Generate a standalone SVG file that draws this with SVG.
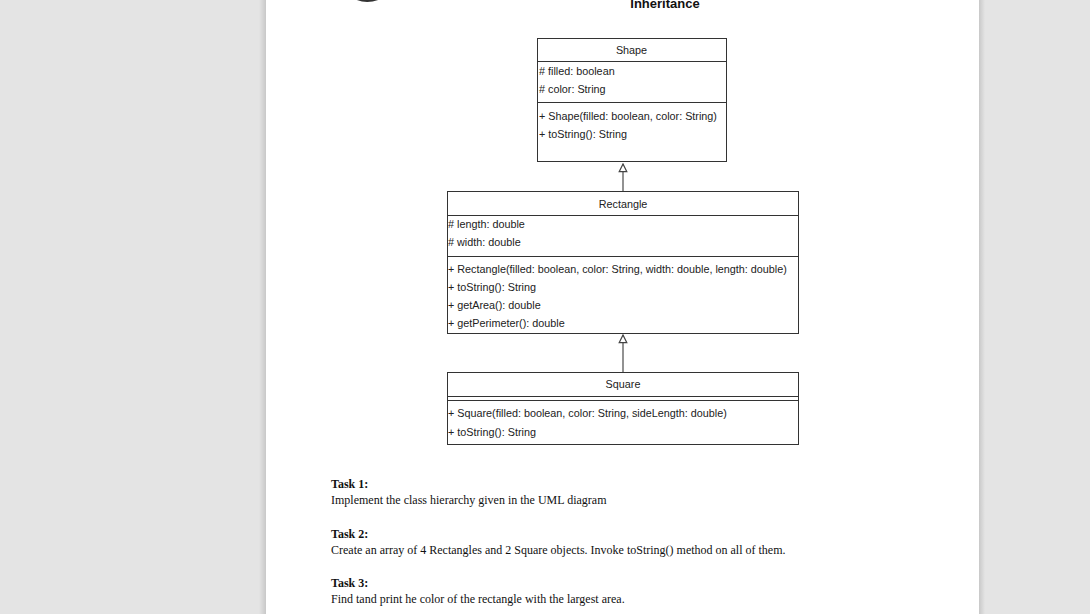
<svg xmlns="http://www.w3.org/2000/svg" width="1090" height="614" viewBox="0 0 1090 614">
<style>
.box{fill:#fff;stroke:#333;stroke-width:1}
.sep{stroke:#333;stroke-width:1;fill:none}
.t{font-family:"Liberation Sans",Arial,sans-serif;font-size:10.8px;fill:#222}
.c{text-anchor:middle}
.conn{stroke:#777;stroke-width:1.6;fill:none}
.task{font-family:"Liberation Serif","Times New Roman",serif;font-size:12px;fill:#111}
.b{font-weight:bold}
</style>
<defs>
<marker id="inh" markerWidth="10" markerHeight="10" refX="7" refY="4" orient="auto" markerUnits="userSpaceOnUse" viewBox="0 0 8 8">
<path d="M7 4 L1 1 L1 7 Z" fill="#fff" stroke="#444" stroke-width="1"/>
</marker>
<linearGradient id="shL" x1="0" x2="1" y1="0" y2="0">
<stop offset="0" stop-color="#e4e4e4"/>
<stop offset="1" stop-color="#c8c8c8"/>
</linearGradient>
<linearGradient id="shR" x1="0" x2="1" y1="0" y2="0">
<stop offset="0" stop-color="#c8c8c8"/>
<stop offset="1" stop-color="#e4e4e4"/>
</linearGradient>
</defs>
<rect x="0" y="0" width="1090" height="614" fill="#e4e4e4"/>
<rect x="259" y="0" width="7" height="614" fill="url(#shL)"/>
<rect x="979" y="0" width="6" height="614" fill="url(#shR)"/>
<rect x="266" y="0" width="713" height="614" fill="#fff"/>
<path d="M357 -1 Q367 3 378 -1" stroke="#333" stroke-width="2" fill="none"/>
<text x="665" y="8" class="t c b" style="font-size:13px;fill:#111">Inheritance</text>

<g id="connectors">
<line x1="623" y1="191" x2="623" y2="164" class="conn" marker-end="url(#inh)"/>
<line x1="623" y1="372" x2="623" y2="335" class="conn" marker-end="url(#inh)"/>
</g>

<g id="shape">
<rect x="537.5" y="38.5" width="189" height="123" class="box"/>
<line x1="537.5" y1="61.5" x2="726.5" y2="61.5" class="sep"/>
<line x1="537.5" y1="102.5" x2="726.5" y2="102.5" class="sep"/>
<text x="631.5" y="54" class="t c">Shape</text>
<text x="539" y="75" class="t"># filled: boolean</text>
<text x="539" y="93" class="t"># color: String</text>
<text x="539" y="120" class="t">+ Shape(filled: boolean, color: String)</text>
<text x="539" y="138" class="t">+ toString(): String</text>
</g>

<g id="rectangle">
<rect x="447.5" y="191.5" width="351" height="142" class="box"/>
<line x1="447.5" y1="215.5" x2="798.5" y2="215.5" class="sep"/>
<line x1="447.5" y1="256.5" x2="798.5" y2="256.5" class="sep"/>
<text x="623" y="208" class="t c">Rectangle</text>
<text x="448" y="228" class="t"># length: double</text>
<text x="448" y="246" class="t"># width: double</text>
<text x="448" y="273" class="t">+ Rectangle(filled: boolean, color: String, width: double, length: double)</text>
<text x="448" y="291" class="t">+ toString(): String</text>
<text x="448" y="309" class="t">+ getArea(): double</text>
<text x="448" y="327" class="t">+ getPerimeter(): double</text>
</g>

<g id="square">
<rect x="447.5" y="372.5" width="351" height="72" class="box"/>
<line x1="447.5" y1="396.5" x2="798.5" y2="396.5" class="sep"/>
<line x1="447.5" y1="400.5" x2="798.5" y2="400.5" class="sep"/>
<text x="623" y="388" class="t c">Square</text>
<text x="448" y="417" class="t">+ Square(filled: boolean, color: String, sideLength: double)</text>
<text x="448" y="436" class="t">+ toString(): String</text>
</g>

<g id="tasks">
<text x="331" y="488" class="task b">Task 1:</text>
<text x="331" y="504" class="task">Implement the class hierarchy given in the UML diagram</text>
<text x="331" y="538" class="task b">Task 2:</text>
<text x="331" y="554" class="task">Create an array of 4 Rectangles and 2 Square objects. Invoke toString() method on all of them.</text>
<text x="331" y="587" class="task b">Task 3:</text>
<text x="331" y="603" class="task">Find tand print he color of the rectangle with the largest area.</text>
</g>
</svg>
